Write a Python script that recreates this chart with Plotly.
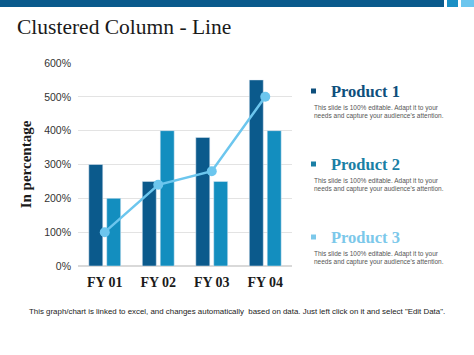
import plotly.graph_objects as go

categories = ["FY 01", "FY 02", "FY 03", "FY 04"]
product1 = [300, 250, 380, 550]
product2 = [200, 400, 250, 400]
product3 = [100, 240, 280, 500]
series_names = ["Product 1", "Product 2", "Product 3"]
y_ticks = [0, 100, 200, 300, 400, 500, 600]
y_tick_labels = ["0%", "100%", "200%", "300%", "400%", "500%", "600%"]
desc = "This slide is 100% editable. Adapt it to your<br>needs and capture your audience's attention."

W, H = 474, 355
L, R, T, B = 78, 292, 63, 266

def px(x):
    return (x - L) / (R - L)

def py(y):
    return (B - y) / (B - T)

c1, c2, c3 = "#0b5a8c", "#138ebf", "#6cc6ee"
label_colors = ["#0e4f7c", "#1a7fa5", "#7cc8ea"]

fig = go.Figure()
fig.add_trace(go.Bar(x=categories, y=product1, name=series_names[0], marker_color=c1))
fig.add_trace(go.Bar(x=categories, y=product2, name=series_names[1], marker_color=c2))
fig.add_trace(go.Scatter(x=categories, y=product3, name=series_names[2], mode="lines+markers",
                         line=dict(color=c3, width=2.5), marker=dict(size=10, color=c3)))

shapes = [
    dict(type="rect", xref="paper", yref="paper", x0=px(0), x1=px(444), y0=py(0), y1=py(7),
         fillcolor="#0a5a8c", line_width=0, layer="above"),
    dict(type="rect", xref="paper", yref="paper", x0=px(447), x1=px(458), y0=py(0), y1=py(7),
         fillcolor="#1a8fc4", line_width=0),
    dict(type="rect", xref="paper", yref="paper", x0=px(461), x1=px(474), y0=py(0), y1=py(7),
         fillcolor="#6cc6ee", line_width=0),
]
annotations = [
    dict(text="Clustered Column - Line", x=px(15), y=py(27), xref="paper", yref="paper",
         xanchor="left", yanchor="middle", showarrow=False,
         font=dict(family="Liberation Serif", size=21.5, color="#1a1a1a")),
    dict(text="This graph/chart is linked to excel, and changes automatically  based on data. Just left click on it and select \"Edit Data\".",
         x=px(237), y=py(311), xref="paper", yref="paper", xanchor="center", yanchor="middle",
         showarrow=False, font=dict(family="Liberation Sans", size=7.9, color="#222222")),
]
label_y = [91, 164, 237]
for i, name in enumerate(series_names):
    yy = label_y[i]
    shapes.append(dict(type="rect", xref="paper", yref="paper", x0=px(311), x1=px(316),
                       y0=py(yy - 2.5), y1=py(yy + 2.5), fillcolor=label_colors[i], line_width=0))
    annotations.append(dict(text="<b>" + name + "</b>", x=px(329), y=py(yy), xref="paper", yref="paper",
                            xanchor="left", yanchor="middle", showarrow=False,
                            font=dict(family="Liberation Serif", size=16.5, color=label_colors[i])))
    annotations.append(dict(text=desc, x=px(312), y=py(yy + 11), xref="paper", yref="paper",
                            xanchor="left", yanchor="top", showarrow=False, align="left",
                            font=dict(family="Liberation Sans", size=6.5, color="#555555")))

fig.update_layout(
    width=W, height=H, margin=dict(l=L, r=W - R, t=T, b=H - B),
    paper_bgcolor="white", plot_bgcolor="white", showlegend=False,
    barmode="group", bargap=0.33, bargroupgap=0.22,
    shapes=shapes, annotations=annotations,
    xaxis=dict(showgrid=False, showline=False, ticks="", ticklabelstandoff=6,
               tickfont=dict(family="Liberation Serif", size=14, color="#1a1a1a", weight="bold")),
    yaxis=dict(range=[0, 600], tickmode="array", tickvals=y_ticks, ticktext=y_tick_labels,
               showgrid=True, gridcolor="#e3e3e3", gridwidth=1, zeroline=True, zerolinecolor="#d9d9d9",
               ticklabelstandoff=6,
               tickfont=dict(family="Liberation Sans", size=10.5, color="#333333"),
               title=dict(text="<b>In percentage</b>", standoff=8,
                          font=dict(family="Liberation Serif", size=15, color="#1a1a1a"))),
)
fig.write_html("out.html", config={"displayModeBar": False},
               post_script="document.body.style.margin='0';")
